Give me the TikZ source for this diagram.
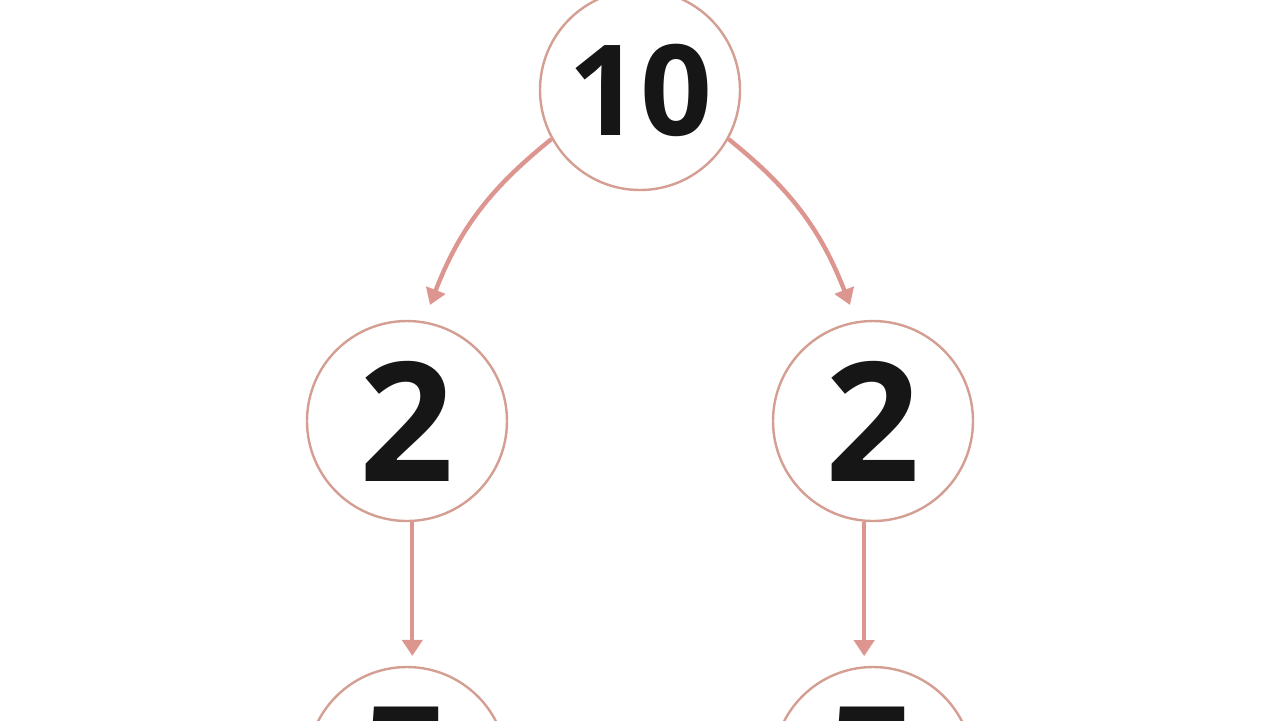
\documentclass[tikz,border=0pt]{standalone}
\usepackage{fontspec}
\setmainfont{Open Sans}
\usetikzlibrary{arrows.meta}
\definecolor{rim}{RGB}{212,158,146}
\definecolor{arrowpink}{RGB}{220,150,143}
\definecolor{digit}{RGB}{22,22,22}

\begin{document}
\begin{tikzpicture}[x=0.5pt,y=0.5pt,yscale=-1,
	num/.style={circle,draw=rim,line width=1.2pt,fill=white,minimum size=100pt,inner sep=0pt,text=digit,font=\bfseries\fontsize{83}{83}\selectfont},
	arr/.style={arrowpink,line width=2.2pt,-{Triangle[width=10pt,length=8pt]}}]
			\useasboundingbox (0,0) rectangle (1280,720);
			
			\node[num,font=\bfseries\fontsize{63}{63}\selectfont] (ten) at (640,90) {10};
			\node[num] (twoL) at (407,421) {2};
			\node[num] (twoR) at (873,421) {2};
			\node[num] (fiveL) at (407,767) {5};
			\node[num] (fiveR) at (873,767) {5};
			
			\coordinate (tipL) at (430,305);
			\coordinate (tipR) at (850,305);
			
			\draw[arr] (ten.209) to[bend left=15] (tipL);
			\draw[arr] (ten.-29) to[bend right=15] (tipR);
			\draw[arr,shorten >=5pt] (twoL.-87) -- (fiveL.87);
			\draw[arr,shorten >=5pt] (twoR.-95) -- (fiveR.95);
\end{tikzpicture}
\end{document}
